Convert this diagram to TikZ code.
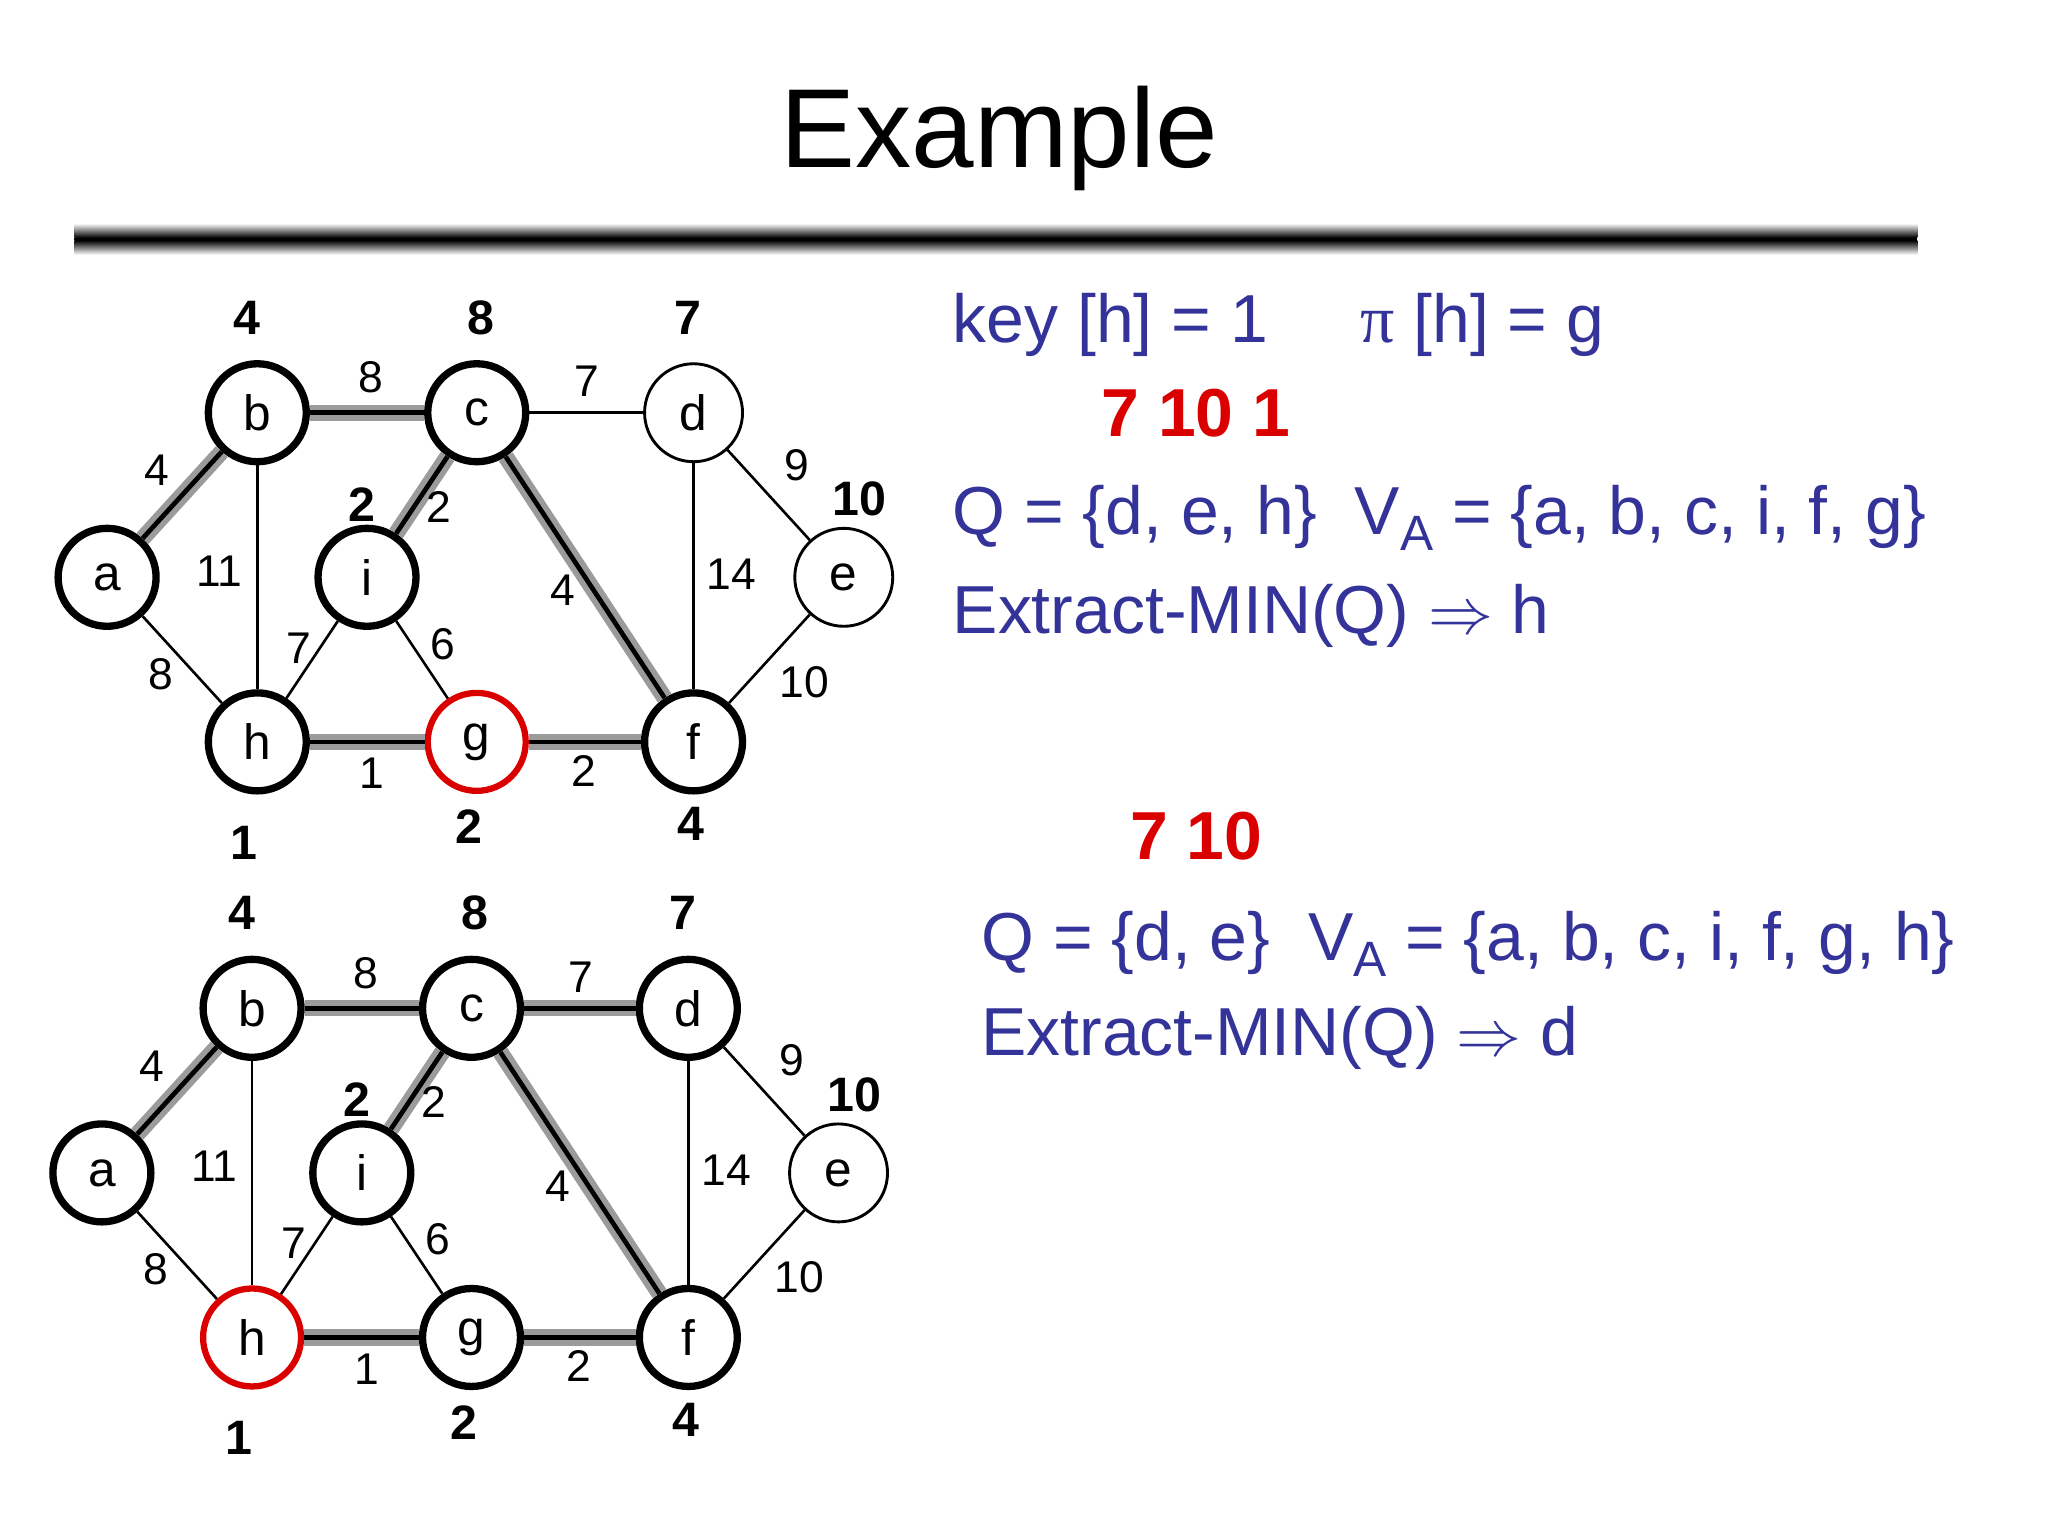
\documentclass[tikz,border=0pt]{standalone}
\usepackage{fontspec}
\setmainfont{Liberation Sans}
\newfontfamily\greekfont{Liberation Serif}
\usetikzlibrary{positioning}
\definecolor{slideblue}{RGB}{51,51,153}
\definecolor{slidered}{RGB}{218,0,0}
\definecolor{treegray}{RGB}{155,155,155}
\newcommand{\subA}{\raisebox{-0.24em}{\fontsize{19}{19}\selectfont A}}
\tikzset{
	vtx/.style={circle, draw, line width=2.8pt, minimum size=37.5pt, inner sep=0pt,
			font=\fontsize{19}{19}\selectfont},
	open/.style={vtx, line width=1.1pt},
	cur/.style={vtx, draw=slidered, line width=2.4pt},
	link/.style={line width=1pt},
	tree/.style={line width=1.8pt, preaction={draw=treegray, line width=6.2pt}},
	wt/.style={font=\fontsize{17}{17}\selectfont, inner sep=0pt},
	keyval/.style={font=\bfseries\fontsize{18.5}{18.5}\selectfont, inner sep=0pt},
	slide/.style={text=slideblue, font=\fontsize{26}{27}\selectfont, anchor=base west, inner sep=0pt},
	redline/.style={text=slidered, font=\bfseries\fontsize{26}{27}\selectfont, anchor=base west, inner sep=0pt}
}

\begin{document}
\begin{tikzpicture}[x=0.5pt, y=-0.5pt]
	\useasboundingbox (0,0) rectangle (1568,1176);

	% Title and rule
	\node[font=\fontsize{43}{43}\selectfont, anchor=base] (title) at (765,128) {Example};
	\shade[top color=white, bottom color=black] (57,171) rectangle (1468,182);
	\shade[top color=black, bottom color=white] (57,184) rectangle (1468,195);
	\fill (57,182) rectangle (1468,184);

	% Vertices of the two snapshots
	\foreach \n/\x/\y/\s in {a/82/442/vtx, b/197/316/vtx, c/365/316/vtx, d/531/316/open, e/646/442/open,
			f/531/568/vtx, g/365/568/cur, h/197/568/vtx, i/281/442/vtx}
		\node[\s] (\n1) at (\x,\y) {\n};
	\begin{scope}[shift={(-4,456)}]
		\foreach \n/\x/\y/\s in {a/82/442/vtx, b/197/316/vtx, c/365/316/vtx, d/531/316/vtx, e/646/442/open,
				f/531/568/vtx, g/365/568/vtx, h/197/568/cur, i/281/442/vtx}
			\node[\s] (\n2) at (\x,\y) {\n};
	\end{scope}

	% Edges
	\foreach \p in {1,2} {
		\foreach \u/\v in {a/h, b/h, h/i, i/g, d/e, d/f, e/f}
			\draw[link] (\u\p) -- (\v\p);
		\foreach \u/\v in {a/b, b/c, c/i, c/f, h/g, g/f}
			\draw[tree] (\u\p) -- (\v\p);
	}
	\draw[link] (c1) -- (d1);
	\draw[tree] (c2) -- (d2);

	% Weights and keys
	\foreach \p/\dx/\dy in {1/0/0, 2/-4/456} {
		\begin{scope}[shift={(\dx,\dy)}]
			\foreach \e/\t/\x/\y in {bc/8/284/289, cd/7/449/292, ab/4/120/360, de/9/610/356,
					bh/11/168/437, ci/2/336/388, cf/4/431/452, df/14/560/440, hi/7/229/496,
					ig/6/339/493, ah/8/123/516, ef/10/616/522, hg/1/285/592, gf/2/447/590}
				\node[wt] (w\e\p) at (\x,\y) {\t};
			\foreach \n/\t/\x/\y in {b/4/189/243, c/8/368/243, d/7/527/243, i/2/277/386,
					e/10/658/382, h/1/187/645, g/2/359/633, f/4/529/631}
				\node[keyval] (key\n\p) at (\x,\y) {\t};
		\end{scope}
	}

	% Text on the right
	\node[slide] (keyh) at (729,262) {key [h] = 1};
	\node[slide] (pih) at (1041,262) {{\greekfont π} [h] = g};
	\node[redline] (heap1) at (843,334) {7 10 1};
	\node[slide] (sets1) at (729,409) {Q = \{d, e, h\}\ \ V\subA\ = \{a, b, c, i, f, g\}};
	\node[slide] (min1) at (729,485) {Extract-MIN(Q) $\Rightarrow$ h};
	\node[redline] (heap2) at (865,658) {7 10};
	\node[slide] (sets2) at (751,735) {Q = \{d, e\}\ \ V\subA\ = \{a, b, c, i, f, g, h\}};
	\node[slide] (min2) at (751,808) {Extract-MIN(Q) $\Rightarrow$ d};

\end{tikzpicture}
\end{document}
